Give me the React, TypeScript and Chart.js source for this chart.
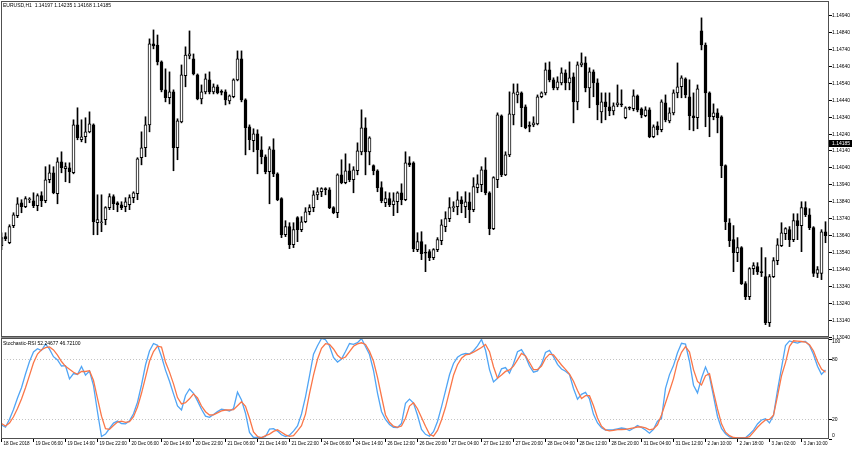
import React, { useEffect, useRef } from "react";
import { Chart, registerables } from "chart.js";

Chart.register(...registerables);

// ---- Data (EURUSD H1) ----
const opens = [
  1.13578, 1.13631, 1.13595, 1.13696, 1.13755, 1.13831, 1.13808, 1.13849, 1.13843, 1.13814,
  1.13873, 1.13843, 1.13967, 1.14008, 1.13884, 1.14073, 1.14032, 1.14038, 1.14008, 1.14291,
  1.14203, 1.14221, 1.1425, 1.14291, 1.13713, 1.13713, 1.13731, 1.13802, 1.13867, 1.13831,
  1.13819, 1.13808, 1.13819, 1.13861, 1.13884, 1.14097, 1.14156, 1.14291, 1.14769, 1.14763,
  1.14663, 1.14498, 1.14451, 1.14486, 1.14156, 1.14309, 1.14581, 1.14699, 1.14681, 1.14586,
  1.14445, 1.14486, 1.14557, 1.14486, 1.14516, 1.14486, 1.14486, 1.14433, 1.14457, 1.14557,
  1.14681, 1.14439, 1.1428, 1.14197, 1.14238, 1.14144, 1.14103, 1.14014, 1.14144, 1.14002,
  1.13855, 1.13642, 1.1369, 1.13583, 1.13743, 1.13672, 1.13719, 1.13778, 1.13802, 1.13878,
  1.13896, 1.13914, 1.13908, 1.13802, 1.13772, 1.13996, 1.13949, 1.1402, 1.13967, 1.1402,
  1.14132, 1.14274, 1.14132, 1.1405, 1.1402, 1.1392, 1.13831, 1.13855, 1.13819, 1.13837,
  1.1389, 1.13849, 1.14067, 1.14067, 1.13554, 1.13601, 1.13536, 1.13542, 1.13507, 1.13554,
  1.13607, 1.1369, 1.13737, 1.13802, 1.13808, 1.13849, 1.13808, 1.13837, 1.1379, 1.1392,
  1.13938, 1.14026, 1.1389, 1.13678, 1.13967, 1.14344, 1.13996, 1.14114, 1.1435, 1.14468,
  1.1448, 1.14398, 1.14285, 1.14291, 1.14297, 1.14457, 1.1448, 1.14616, 1.14557, 1.1451,
  1.14539, 1.14598, 1.14539, 1.14575, 1.14427, 1.14645, 1.14657, 1.1451, 1.14604, 1.14539,
  1.14368, 1.14427, 1.14398, 1.14374, 1.14409, 1.14415, 1.14333, 1.14392, 1.14386, 1.14463,
  1.14386, 1.14345, 1.1438, 1.14221, 1.14285, 1.14262, 1.14421, 1.14315, 1.14362, 1.1448,
  1.14516, 1.14563, 1.14457, 1.14345, 1.14333, 1.14846, 1.14763, 1.1448, 1.14339, 1.14362,
  1.14339, 1.1405, 1.13713, 1.13613, 1.13536, 1.13566, 1.13353, 1.13277, 1.13442, 1.13454,
  1.13424, 1.13395, 1.13123, 1.13395, 1.13489, 1.13578, 1.13648, 1.13672, 1.13613, 1.13725,
  1.13696, 1.13802, 1.1376, 1.13684, 1.13413, 1.13413, 1.1366,
];
const highs = [
  1.13654, 1.13654, 1.13701, 1.13772, 1.13861, 1.13849, 1.13867, 1.13861, 1.1389, 1.13884,
  1.13896, 1.14044, 1.14055, 1.14044, 1.14097, 1.14132, 1.14067, 1.14067, 1.14321, 1.14392,
  1.14321, 1.14333, 1.14368, 1.14297, 1.13878, 1.13878, 1.13808, 1.13884, 1.13878, 1.13837,
  1.13837, 1.13861, 1.13878, 1.13896, 1.14097, 1.1425, 1.14339, 1.14799, 1.14852, 1.14822,
  1.14669, 1.14622, 1.14604, 1.14498, 1.14327, 1.14645, 1.14752, 1.14846, 1.1471, 1.14592,
  1.14527, 1.14592, 1.14604, 1.14533, 1.14527, 1.14498, 1.14498, 1.14468, 1.14563, 1.14728,
  1.14728, 1.14445, 1.14291, 1.14268, 1.14262, 1.14221, 1.14114, 1.14162, 1.14209, 1.14008,
  1.13861, 1.13725, 1.13713, 1.13713, 1.13749, 1.13749, 1.13802, 1.13819, 1.13902, 1.1392,
  1.1392, 1.1392, 1.1392, 1.13808, 1.14002, 1.14085, 1.1412, 1.14061, 1.14044, 1.14185,
  1.1438, 1.14333, 1.14221, 1.14055, 1.14026, 1.13955, 1.13896, 1.1389, 1.1389, 1.13896,
  1.13943, 1.14132, 1.14103, 1.14073, 1.13654, 1.1366, 1.13583, 1.13554, 1.1356, 1.13625,
  1.13731, 1.13778, 1.13861, 1.13837, 1.13896, 1.13867, 1.13896, 1.1389, 1.13979, 1.13996,
  1.14044, 1.14097, 1.13896, 1.13985, 1.14362, 1.1435, 1.14132, 1.14486, 1.14533, 1.14533,
  1.14486, 1.14409, 1.14309, 1.14339, 1.14468, 1.14486, 1.14657, 1.14663, 1.14569, 1.14575,
  1.14628, 1.14616, 1.14663, 1.14598, 1.14663, 1.14716, 1.14693, 1.14628, 1.14616, 1.14563,
  1.1448, 1.1448, 1.1448, 1.14421, 1.14527, 1.14498, 1.14398, 1.14398, 1.14498, 1.14468,
  1.14392, 1.14398, 1.14392, 1.14291, 1.14309, 1.14439, 1.14468, 1.14392, 1.14498, 1.14657,
  1.14581, 1.14569, 1.14557, 1.1448, 1.14527, 1.14923, 1.14775, 1.14486, 1.14415, 1.14386,
  1.14345, 1.14055, 1.13737, 1.13696, 1.13625, 1.13572, 1.13365, 1.13448, 1.13477, 1.13477,
  1.13566, 1.13507, 1.13407, 1.13507, 1.13619, 1.13713, 1.13684, 1.1369, 1.13766, 1.13766,
  1.13837, 1.13837, 1.13796, 1.1369, 1.13454, 1.13672, 1.13719,
];
const lows = [
  1.13554, 1.13607, 1.13589, 1.13684, 1.13743, 1.13772, 1.13802, 1.13831, 1.13802, 1.13784,
  1.13808, 1.13831, 1.13949, 1.13884, 1.13825, 1.14008, 1.13955, 1.13949, 1.14002, 1.14203,
  1.14191, 1.14185, 1.14244, 1.13642, 1.13642, 1.1366, 1.13701, 1.1379, 1.1379, 1.13778,
  1.1379, 1.13778, 1.1379, 1.13831, 1.13849, 1.14055, 1.14103, 1.1425, 1.1474, 1.14645,
  1.14486, 1.14427, 1.14415, 1.1402, 1.14085, 1.14303, 1.14516, 1.14681, 1.14586, 1.14439,
  1.14415, 1.14474, 1.14474, 1.14474, 1.14474, 1.14468, 1.14409, 1.14415, 1.14451, 1.14551,
  1.14427, 1.14114, 1.14144, 1.14132, 1.14002, 1.14061, 1.14002, 1.13825, 1.13985, 1.13843,
  1.13625, 1.13631, 1.1356, 1.13566, 1.13601, 1.1366, 1.13713, 1.1376, 1.13778, 1.13849,
  1.13867, 1.13878, 1.13796, 1.13766, 1.13743, 1.13943, 1.13943, 1.13955, 1.1389, 1.13996,
  1.14114, 1.13996, 1.14055, 1.13996, 1.13896, 1.13831, 1.13808, 1.13808, 1.13755, 1.13772,
  1.13819, 1.13843, 1.14044, 1.13542, 1.13542, 1.13495, 1.13424, 1.13489, 1.13495, 1.13542,
  1.13583, 1.1366, 1.13719, 1.13778, 1.1376, 1.13772, 1.13743, 1.13713, 1.13778, 1.1389,
  1.13896, 1.13878, 1.13642, 1.13672, 1.1392, 1.13985, 1.13991, 1.14103, 1.14291, 1.14421,
  1.1428, 1.14268, 1.1425, 1.1428, 1.14291, 1.14451, 1.14468, 1.14545, 1.14498, 1.14498,
  1.14527, 1.14498, 1.14498, 1.14303, 1.1438, 1.14634, 1.14486, 1.14392, 1.14457, 1.14321,
  1.14303, 1.14321, 1.14345, 1.1435, 1.14398, 1.14398, 1.14327, 1.1438, 1.14374, 1.14368,
  1.14333, 1.14339, 1.14215, 1.14215, 1.14232, 1.1425, 1.14309, 1.14303, 1.1435, 1.14451,
  1.14451, 1.14451, 1.14262, 1.14256, 1.14268, 1.14734, 1.1428, 1.14221, 1.14321, 1.14244,
  1.13979, 1.13672, 1.13572, 1.13424, 1.13483, 1.13348, 1.13259, 1.13259, 1.13407, 1.13407,
  1.13395, 1.13111, 1.131, 1.13389, 1.13465, 1.13572, 1.13613, 1.13572, 1.13601, 1.13613,
  1.13542, 1.13749, 1.13672, 1.13395, 1.13389, 1.13377, 1.13595,
];
const closes = [
  1.13625, 1.13619, 1.1369, 1.1376, 1.13825, 1.13808, 1.13855, 1.13852, 1.13814, 1.13873,
  1.13843, 1.13967, 1.14008, 1.1389, 1.14073, 1.14038, 1.14044, 1.14014, 1.14291, 1.14215,
  1.14221, 1.1425, 1.14297, 1.13719, 1.13731, 1.13716, 1.13802, 1.13867, 1.13825, 1.13819,
  1.13802, 1.13837, 1.13861, 1.1389, 1.14091, 1.14156, 1.14291, 1.14769, 1.14758, 1.14663,
  1.14498, 1.14451, 1.14486, 1.14156, 1.14315, 1.14586, 1.14704, 1.1471, 1.14592, 1.14445,
  1.14486, 1.14563, 1.14486, 1.14516, 1.1448, 1.14483, 1.14439, 1.14463, 1.14557, 1.14681,
  1.14439, 1.14274, 1.14203, 1.14238, 1.14144, 1.14103, 1.14014, 1.1415, 1.14002, 1.13849,
  1.13642, 1.1369, 1.13583, 1.13672, 1.13672, 1.13719, 1.13778, 1.13802, 1.13878, 1.13896,
  1.13914, 1.13908, 1.13802, 1.13772, 1.13996, 1.13949, 1.1402, 1.13967, 1.14026, 1.14138,
  1.14274, 1.14132, 1.14215, 1.1402, 1.1392, 1.13843, 1.13855, 1.13819, 1.13843, 1.1389,
  1.13849, 1.14067, 1.14055, 1.1356, 1.13601, 1.1353, 1.13533, 1.13507, 1.13554, 1.13613,
  1.13701, 1.13737, 1.13802, 1.13808, 1.13849, 1.13825, 1.13837, 1.1379, 1.13926, 1.13943,
  1.14026, 1.1389, 1.13678, 1.13979, 1.1435, 1.13996, 1.14114, 1.14356, 1.1448, 1.14486,
  1.14392, 1.14274, 1.14282, 1.14303, 1.14457, 1.1448, 1.14616, 1.14557, 1.1451, 1.14545,
  1.14598, 1.14539, 1.14569, 1.14427, 1.14645, 1.14657, 1.1451, 1.14604, 1.14539, 1.14409,
  1.14427, 1.14398, 1.14374, 1.14404, 1.14421, 1.14409, 1.14392, 1.14389, 1.14463, 1.1438,
  1.1435, 1.1438, 1.14221, 1.1428, 1.14262, 1.14427, 1.14321, 1.14362, 1.1448, 1.14516,
  1.14569, 1.14468, 1.14345, 1.14333, 1.14504, 1.14763, 1.1448, 1.14339, 1.14362, 1.14333,
  1.1405, 1.13719, 1.13607, 1.13536, 1.13566, 1.13353, 1.13277, 1.13442, 1.1346, 1.13424,
  1.13418, 1.13123, 1.13395, 1.13489, 1.13583, 1.13654, 1.13678, 1.13613, 1.13725, 1.13696,
  1.13802, 1.1376, 1.13684, 1.13413, 1.13436, 1.1366, 1.13636,
];

// Stochastic-RSI lines
const stochK = [
  13.5, 11.3, 19.3, 29, 40.5, 50.8, 64.5, 77, 86.6, 89.8,
  88, 94.3, 89.3, 81.8, 78.5, 72.5, 72.8, 59.6, 64.9, 64,
  72, 63.4, 67.5, 52.8, 26.5, 2, 4.4, 10, 15.4, 17.4,
  15, 14.6, 17.8, 24.8, 36.3, 53.5, 73.5, 87.5, 95, 93.2,
  82, 68.4, 57.2, 44.6, 32.5, 28.5, 43, 49.5, 45.2, 37.6,
  29.2, 22.3, 21.1, 24, 26.9, 29.2, 28.6, 27.4, 30, 46.3,
  38.5, 25.3, 6, 1, 1, 1, 2, 9.3, 9.8, 7.4,
  3.7, 2, 3.3, 7.4, 12.6, 24.5, 41.7, 62.6, 84.3, 92.7,
  100, 98.8, 92.5, 81, 76.5, 79.5, 87, 95, 94.1, 95.8,
  100, 92, 84, 68, 45.4, 27, 19, 14, 11.2, 11,
  15, 35.3, 39.4, 35.5, 23.2, 9, 4.2, 2.2, 6.8, 17,
  31.7, 47.7, 63.7, 75, 81.2, 84, 85, 84.5, 87.8, 92.7,
  99, 88.5, 68.9, 56.6, 60.2, 69.7, 70.9, 65.3, 74.8, 86.8,
  88.8, 82.1, 72.5, 66.3, 67.6, 74.3, 86, 88.1, 81.8, 74.2,
  69.5, 67.2, 63.9, 50, 39.3, 44.2, 46.2, 39.5, 24.2, 15.5,
  10.8, 8.5, 8.5, 8.9, 9.7, 10.5, 9.8, 7.9, 10.3, 12.9,
  11, 8.5, 5.3, 9.2, 17.2, 20, 50.2, 63.9, 72.9, 85.8,
  95.2, 94.4, 77, 53.3, 45.6, 60.2, 71.4, 61.9, 42.3, 22,
  10, 4.8, 1.7, 0.5, 0.5, 0.5, 0.8, 4.2, 8.4, 14.5,
  18.5, 19.7, 15.5, 23.1, 48.2, 70.7, 93, 97.6, 96.4, 95.4,
  96.8, 97, 93, 84, 72.2, 64.1, 68.5,
];
const stochD = [
  15, 12.5, 15.5, 21.7, 30, 39.6, 50.7, 63.1, 75.7, 84.5,
  88.7, 90.9, 91.6, 88.6, 83.4, 77, 72.2, 69.2, 66.2, 64.2,
  67, 67, 67.8, 58, 40.2, 22.3, 9.9, 9.1, 13, 16.5,
  17.3, 16.1, 16.9, 21.8, 31.5, 45.2, 61.2, 77.2, 86.9, 92.3,
  91.4, 76.5, 66.4, 54.6, 40.9, 34.6, 35.8, 39.7, 44.6, 40.5,
  32.5, 26.8, 23.5, 23.7, 25.7, 27.7, 28.5, 28.5, 28.8, 32.8,
  36.8, 32.2, 20.2, 6.6, 2, 0.7, 2.9, 4.4, 7.1, 8.7,
  6.3, 3.6, 2.1, 2.9, 7.7, 12.9, 24.4, 44.8, 63.4, 79.2,
  90.2, 94.8, 94.2, 89.5, 83.3, 79.7, 81.5, 86.9, 92.2, 94.6,
  95.7, 94.1, 87.1, 77.2, 61.2, 42, 23.5, 16.2, 12.4, 11.2,
  12.5, 20.2, 32.4, 35.7, 29.8, 21, 12.2, 4.2, 2.4, 8.1,
  18.5, 31.2, 47.2, 63.2, 73.8, 80.2, 83.6, 84.4, 86.3, 88.6,
  91, 94, 86.8, 71.8, 60.3, 63.5, 67.1, 68.6, 72.3, 78.6,
  85, 82.6, 76, 69, 68.9, 72.5, 80.1, 84.4, 83.6, 78.7,
  73.5, 69.1, 64.4, 57.2, 48, 40, 42.8, 42.8, 32.8, 20.5,
  12.3, 8.7, 7.6, 8.2, 8.8, 9, 9.1, 9.9, 10.7, 11.5,
  11.7, 10.7, 8.7, 9.6, 13.7, 23.5, 35.5, 47.5, 59.9, 76.3,
  86.2, 91.8, 86.4, 68.9, 57.1, 53.5, 62.8, 64.9, 46.6, 29.5,
  14.7, 6.3, 2.8, 1, 0.5, 0.5, 0.7, 1.9, 6.3, 11.2,
  15.2, 18.6, 19, 23.4, 42.3, 62.6, 75.9, 92.1, 97.7, 97.4,
  97, 96.5, 93.7, 87.5, 77.2, 69.5, 66.3,
];

// Time axis labels (one every 8 bars, starting at bar 0)
const timeLabels = [
  "18 Dec 2018", "19 Dec 06:00", "19 Dec 14:00", "19 Dec 22:00", "20 Dec 06:00",
  "20 Dec 14:00", "20 Dec 22:00", "21 Dec 06:00", "21 Dec 14:00", "21 Dec 22:00",
  "24 Dec 06:00", "24 Dec 14:00", "26 Dec 12:00", "26 Dec 20:00", "27 Dec 04:00",
  "27 Dec 12:00", "27 Dec 20:00", "28 Dec 04:00", "28 Dec 12:00", "28 Dec 20:00",
  "31 Dec 04:00", "31 Dec 12:00", "2 Jan 10:00", "2 Jan 18:00", "3 Jan 02:00",
  "3 Jan 10:00",
];
const labelStep = 8;

const priceTicks = [
  "1.14940", "1.14840", "1.14740", "1.14640", "1.14540", "1.14440", "1.14340",
  "1.14240", "1.14140", "1.14040", "1.13940", "1.13840", "1.13740", "1.13640",
  "1.13540", "1.13440", "1.13340", "1.13240", "1.13140", "1.13040",
];
const currentPrice = "1.14185";
const stochLevels = [100, 80, 20, 0];
const stochDotted = [80, 20];
const mainTitle = "EURUSD,H1  1.14197 1.14235 1.14168 1.14185";
const stochTitle = "Stochastic-RSI 52.24677 46.72100";

const K_COLOR = "rgb(80,165,245)";
const D_COLOR = "rgb(250,118,72)";

export default function App() {
  const ref = useRef<HTMLCanvasElement | null>(null);

  useEffect(() => {
    document.body.style.margin = "0";
    const canvas = ref.current;
    if (!canvas) return;
    const idx = opens.map((_, i) => i);
    const FONT = '5px "Liberation Sans", Arial, sans-serif';
    const XFONT = '4.6px "Liberation Sans", Arial, sans-serif';

    const mt4Plugin = {
      id: "mt4panels",
      beforeDraw(chart: any) {
        const ctx = chart.ctx;
        ctx.save();
        ctx.fillStyle = "#ffffff";
        ctx.fillRect(0, 0, chart.width, chart.height);
        ctx.restore();
      },
      beforeDatasetsDraw(chart: any) {
        const ctx = chart.ctx;
        const a = chart.chartArea;
        const ss = chart.scales.y2;
        ctx.save();
        ctx.strokeStyle = "#c4c4c4";
        ctx.lineWidth = 1;
        ctx.setLineDash([1, 2]);
        stochDotted.forEach((v) => {
          const y = Math.round(ss.getPixelForValue(v)) + 0.5;
          ctx.beginPath();
          ctx.moveTo(a.left, y);
          ctx.lineTo(a.right, y);
          ctx.stroke();
        });
        ctx.restore();
      },
      afterDraw(chart: any) {
        const ctx = chart.ctx;
        const a = chart.chartArea;
        const xs = chart.scales.x;
        const ys = chart.scales.y;
        const ss = chart.scales.y2;
        const L = a.left;
        const R = a.right;
        const split = Math.round(ss.getPixelForValue(101.5));
        ctx.save();
        // panel frames
        ctx.lineWidth = 1;
        ctx.strokeStyle = "#505050";
        ctx.strokeRect(L + 0.5, a.top + 0.5, R - L - 1, split - a.top - 1);
        ctx.strokeRect(L + 0.5, split + 1.5, R - L - 1, a.bottom - split - 2);
        ctx.strokeStyle = "#8a8a8a";
        ctx.beginPath();
        ctx.moveTo(L, split + 0.5);
        ctx.lineTo(R, split + 0.5);
        ctx.stroke();

        ctx.fillStyle = "#000";
        ctx.strokeStyle = "#000";
        ctx.font = FONT;
        ctx.textBaseline = "middle";
        ctx.textAlign = "left";

        // price scale
        priceTicks.forEach((t) => {
          const y = Math.round(ys.getPixelForValue(parseFloat(t))) + 0.5;
          ctx.beginPath();
          ctx.moveTo(R, y);
          ctx.lineTo(R + 3, y);
          ctx.stroke();
          ctx.fillText(t, R + 3, y);
        });
        // current price marker
        const cy = Math.round(ys.getPixelForValue(parseFloat(currentPrice)));
        ctx.fillStyle = "#000";
        ctx.fillRect(R, cy - 3, chart.width - R, 7);
        ctx.fillStyle = "#fff";
        ctx.fillText(currentPrice, R + 3, cy + 0.5);
        ctx.fillStyle = "#000";

        // stochastic scale
        stochLevels.forEach((v) => {
          const yp = Math.round(ss.getPixelForValue(v)) + 0.5;
          ctx.beginPath();
          ctx.moveTo(R, yp);
          ctx.lineTo(R + 3, yp);
          ctx.stroke();
          const ty = Math.min(Math.max(yp, split + 4.5), a.bottom - 3);
          ctx.fillText(String(v), R + 3, ty);
        });

        // time scale
        ctx.font = XFONT;
        timeLabels.forEach((t, k) => {
          const x = Math.floor(xs.getPixelForValue(k * labelStep)) + 0.5;
          ctx.beginPath();
          ctx.moveTo(x, a.bottom);
          ctx.lineTo(x, a.bottom + 3);
          ctx.stroke();
          ctx.fillText(t, x + 2, a.bottom + 5);
        });

        // titles
        ctx.font = FONT;
        ctx.fillText(mainTitle, L + 2, a.top + 5);
        ctx.fillText(stochTitle, L + 2, split + 6.5);
        ctx.restore();
      },
    };

    const chart = new Chart(canvas, {
      type: "bar",
      data: {
        datasets: [
          {
            type: "line",
            label: "%D",
            data: idx.map((i) => ({ x: i, y: stochD[i] })),
            yAxisID: "y2",
            xAxisID: "x",
            borderColor: D_COLOR,
            borderWidth: 1.3,
            pointRadius: 0,
            tension: 0,
            order: 0,
          },
          {
            type: "line",
            label: "%K",
            data: idx.map((i) => ({ x: i, y: stochK[i] })),
            yAxisID: "y2",
            xAxisID: "x",
            borderColor: K_COLOR,
            borderWidth: 1.3,
            pointRadius: 0,
            tension: 0,
            order: 1,
          },
          {
            type: "bar",
            label: "body",
            data: idx.map((i) => ({ x: i, y: [opens[i], closes[i]] })),
            yAxisID: "y",
            xAxisID: "x",
            backgroundColor: idx.map((i) => (closes[i] >= opens[i] ? "#ffffff" : "#000000")),
            borderColor: "#000000",
            borderWidth: 1,
            borderSkipped: false,
            barThickness: 3,
            maxBarThickness: 3,
            minBarLength: 1,
            grouped: false,
            order: 2,
          },
          {
            type: "bar",
            label: "wick",
            data: idx.map((i) => ({ x: i, y: [lows[i], highs[i]] })),
            yAxisID: "y",
            xAxisID: "x",
            backgroundColor: "#000000",
            borderWidth: 0,
            barThickness: 1,
            maxBarThickness: 1,
            grouped: false,
            order: 3,
          },
        ],
      } as any,
      options: {
        responsive: false,
        animation: false,
        devicePixelRatio: 1,
        events: [],
        layout: { padding: { left: 1, top: 1, right: 23, bottom: 11 } },
        plugins: { legend: { display: false }, tooltip: { enabled: false } },
        scales: {
          x: { type: "linear", min: -0.125, max: opens.length - 0.125, display: false, offset: false },
          y: { type: "linear", min: 1.124356, max: 1.150227, display: false, beginAtZero: false },
          y2: { type: "linear", min: -0.5, max: 437.5, display: false, beginAtZero: false },
        },
      } as any,
      plugins: [mt4Plugin],
    });
    return () => chart.destroy();
  }, []);

  return (
    <div style={{ position: "fixed", left: 0, top: 0, width: 852, height: 450, background: "#fff" }}>
      <canvas ref={ref} width={852} height={450} style={{ display: "block" }} />
    </div>
  );
}
